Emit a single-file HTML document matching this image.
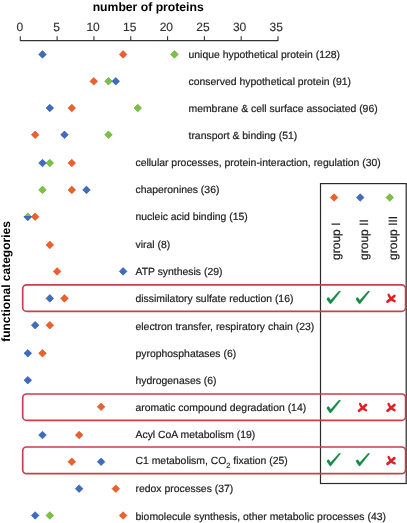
<!DOCTYPE html>
<html><head><meta charset="utf-8"><style>
html,body{margin:0;padding:0;background:#fff;}
svg{display:block;font-family:"Liberation Sans",Arial,sans-serif;text-rendering:geometricPrecision;}
</style></head><body>
<svg width="407" height="523" viewBox="0 0 407 523">
<text x="148.2" y="10.6" font-weight="bold" font-size="12.2" text-anchor="middle">number of proteins</text>
<text x="19.85" y="31" font-size="12" text-anchor="middle" fill="#333" stroke="#333" stroke-width="0.15">0</text>
<text x="56.47" y="31" font-size="12" text-anchor="middle" fill="#333" stroke="#333" stroke-width="0.15">5</text>
<text x="93.09" y="31" font-size="12" text-anchor="middle" fill="#333" stroke="#333" stroke-width="0.15">10</text>
<text x="129.71" y="31" font-size="12" text-anchor="middle" fill="#333" stroke="#333" stroke-width="0.15">15</text>
<text x="166.33" y="31" font-size="12" text-anchor="middle" fill="#333" stroke="#333" stroke-width="0.15">20</text>
<text x="202.95" y="31" font-size="12" text-anchor="middle" fill="#333" stroke="#333" stroke-width="0.15">25</text>
<text x="239.57" y="31" font-size="12" text-anchor="middle" fill="#333" stroke="#333" stroke-width="0.15">30</text>
<text x="276.19" y="31" font-size="12" text-anchor="middle" fill="#333" stroke="#333" stroke-width="0.15">35</text>
<path d="M20.30 36.3V41.1M57.12 36.3V41.1M93.93 36.3V41.1M130.75 36.3V41.1M167.56 36.3V41.1M204.38 36.3V41.1M241.19 36.3V41.1M278.01 36.3V41.1M20.30 40.6H278.01" stroke="#333" stroke-width="1.1" fill="none"/>
<text transform="translate(10.3,281.5) rotate(-90)" font-weight="bold" font-size="12" text-anchor="middle">functional categories</text>
<rect x="320.5" y="183.6" width="85.7" height="299.9" fill="none" stroke="#2a2a2a" stroke-width="1.2"/>
<path d="M334.10 193.70L337.90 197.50L334.10 201.30L330.30 197.50Z" fill="#ee602a" stroke="#c94e1f" stroke-width="0.6" stroke-linejoin="miter"/>
<path d="M360.20 193.70L364.00 197.50L360.20 201.30L356.40 197.50Z" fill="#3d6cc0" stroke="#2c5199" stroke-width="0.6" stroke-linejoin="miter"/>
<path d="M389.80 193.70L393.60 197.50L389.80 201.30L386.00 197.50Z" fill="#7cc242" stroke="#5e9e32" stroke-width="0.6" stroke-linejoin="miter"/>
<text transform="translate(340.2,259.9) rotate(-90)" font-size="12" fill="#222" stroke="#222" stroke-width="0.2">group I</text>
<text transform="translate(367.6,259.9) rotate(-90)" font-size="12" fill="#222" stroke="#222" stroke-width="0.2">group II</text>
<text transform="translate(396.6,259.9) rotate(-90)" font-size="12" fill="#222" stroke="#222" stroke-width="0.2">group III</text>
<rect x="22.7" y="284.9" width="382.9" height="26.50" rx="4" ry="4" fill="none" stroke="#c6404b" stroke-width="1.7"/>
<rect x="22.7" y="394.0" width="382.9" height="26.40" rx="4" ry="4" fill="none" stroke="#c6404b" stroke-width="1.7"/>
<rect x="22.7" y="447.0" width="382.9" height="26.70" rx="4" ry="4" fill="none" stroke="#c6404b" stroke-width="1.7"/>
<polygon points="327.10,298.05 328.90,297.55 330.70,300.35 339.10,290.95 340.70,291.35 331.00,303.65 330.00,303.85 327.00,299.65" fill="#138b45" stroke="#138b45" stroke-width="0.3" stroke-linejoin="round"/>
<polygon points="356.20,298.05 358.00,297.55 359.80,300.35 368.20,290.95 369.80,291.35 360.10,303.65 359.10,303.85 356.10,299.65" fill="#138b45" stroke="#138b45" stroke-width="0.3" stroke-linejoin="round"/>
<path d="M388.60 294.85Q390.00 297.85 391.00 298.85T394.60 301.15" stroke="#dc2129" stroke-width="2.4" stroke-linecap="round" stroke-linejoin="round" fill="none"/><path d="M394.40 295.95L391.00 298.85L387.50 301.65" stroke="#dc2129" stroke-width="2.7" stroke-linecap="round" stroke-linejoin="round" fill="none"/>
<polygon points="327.10,407.10 328.90,406.60 330.70,409.40 339.10,400.00 340.70,400.40 331.00,412.70 330.00,412.90 327.00,408.70" fill="#138b45" stroke="#138b45" stroke-width="0.3" stroke-linejoin="round"/>
<path d="M360.10 403.90Q361.50 406.90 362.50 407.90T366.10 410.20" stroke="#dc2129" stroke-width="2.4" stroke-linecap="round" stroke-linejoin="round" fill="none"/><path d="M365.90 405.00L362.50 407.90L359.00 410.70" stroke="#dc2129" stroke-width="2.7" stroke-linecap="round" stroke-linejoin="round" fill="none"/>
<path d="M388.60 403.90Q390.00 406.90 391.00 407.90T394.60 410.20" stroke="#dc2129" stroke-width="2.4" stroke-linecap="round" stroke-linejoin="round" fill="none"/><path d="M394.40 405.00L391.00 407.90L387.50 410.70" stroke="#dc2129" stroke-width="2.7" stroke-linecap="round" stroke-linejoin="round" fill="none"/>
<polygon points="327.10,460.25 328.90,459.75 330.70,462.55 339.10,453.15 340.70,453.55 331.00,465.85 330.00,466.05 327.00,461.85" fill="#138b45" stroke="#138b45" stroke-width="0.3" stroke-linejoin="round"/>
<polygon points="356.20,460.25 358.00,459.75 359.80,462.55 368.20,453.15 369.80,453.55 360.10,465.85 359.10,466.05 356.10,461.85" fill="#138b45" stroke="#138b45" stroke-width="0.3" stroke-linejoin="round"/>
<path d="M388.60 457.05Q390.00 460.05 391.00 461.05T394.60 463.35" stroke="#dc2129" stroke-width="2.4" stroke-linecap="round" stroke-linejoin="round" fill="none"/><path d="M394.40 458.15L391.00 461.05L387.50 463.85" stroke="#dc2129" stroke-width="2.7" stroke-linecap="round" stroke-linejoin="round" fill="none"/>
<text x="188.5" y="57.90" font-size="10.42" fill="#222" stroke="#222" stroke-width="0.2">unique hypothetical protein (128)</text>
<path d="M42.49 50.60L46.29 54.40L42.49 58.20L38.69 54.40Z" fill="#3d6cc0" stroke="#2c5199" stroke-width="0.6" stroke-linejoin="miter"/>
<path d="M123.12 50.60L126.92 54.40L123.12 58.20L119.32 54.40Z" fill="#ee602a" stroke="#c94e1f" stroke-width="0.6" stroke-linejoin="miter"/>
<path d="M174.43 50.60L178.23 54.40L174.43 58.20L170.63 54.40Z" fill="#7cc242" stroke="#5e9e32" stroke-width="0.6" stroke-linejoin="miter"/>
<text x="188.5" y="85.43" font-size="10.42" fill="#222" stroke="#222" stroke-width="0.2">conserved hypothetical protein (91)</text>
<path d="M93.80 77.50L97.60 81.30L93.80 85.10L90.00 81.30Z" fill="#ee602a" stroke="#c94e1f" stroke-width="0.6" stroke-linejoin="miter"/>
<path d="M108.46 77.50L112.26 81.30L108.46 85.10L104.66 81.30Z" fill="#7cc242" stroke="#5e9e32" stroke-width="0.6" stroke-linejoin="miter"/>
<path d="M115.79 77.50L119.59 81.30L115.79 85.10L111.99 81.30Z" fill="#3d6cc0" stroke="#2c5199" stroke-width="0.6" stroke-linejoin="miter"/>
<text x="188.5" y="112.46" font-size="10.42" fill="#222" stroke="#222" stroke-width="0.2">membrane &amp; cell surface associated (96)</text>
<path d="M49.82 104.27L53.62 108.07L49.82 111.87L46.02 108.07Z" fill="#3d6cc0" stroke="#2c5199" stroke-width="0.6" stroke-linejoin="miter"/>
<path d="M71.81 104.27L75.61 108.07L71.81 111.87L68.01 108.07Z" fill="#ee602a" stroke="#c94e1f" stroke-width="0.6" stroke-linejoin="miter"/>
<path d="M137.78 104.27L141.58 108.07L137.78 111.87L133.98 108.07Z" fill="#7cc242" stroke="#5e9e32" stroke-width="0.6" stroke-linejoin="miter"/>
<text x="188.5" y="139.49" font-size="10.42" fill="#222" stroke="#222" stroke-width="0.2">transport &amp; binding (51)</text>
<path d="M35.16 131.00L38.96 134.80L35.16 138.60L31.36 134.80Z" fill="#ee602a" stroke="#c94e1f" stroke-width="0.6" stroke-linejoin="miter"/>
<path d="M64.48 131.00L68.28 134.80L64.48 138.60L60.68 134.80Z" fill="#3d6cc0" stroke="#2c5199" stroke-width="0.6" stroke-linejoin="miter"/>
<path d="M108.46 131.00L112.26 134.80L108.46 138.60L104.66 134.80Z" fill="#7cc242" stroke="#5e9e32" stroke-width="0.6" stroke-linejoin="miter"/>
<text x="135.5" y="166.12" font-size="10.42" fill="#222" stroke="#222" stroke-width="0.2">cellular processes, protein-interaction, regulation (30)</text>
<path d="M42.49 159.26L46.29 163.06L42.49 166.86L38.69 163.06Z" fill="#3d6cc0" stroke="#2c5199" stroke-width="0.6" stroke-linejoin="miter"/>
<path d="M49.82 159.26L53.62 163.06L49.82 166.86L46.02 163.06Z" fill="#7cc242" stroke="#5e9e32" stroke-width="0.6" stroke-linejoin="miter"/>
<path d="M71.81 159.26L75.61 163.06L71.81 166.86L68.01 163.06Z" fill="#ee602a" stroke="#c94e1f" stroke-width="0.6" stroke-linejoin="miter"/>
<text x="135.5" y="193.15" font-size="10.42" fill="#222" stroke="#222" stroke-width="0.2">chaperonines (36)</text>
<path d="M42.49 186.10L46.29 189.90L42.49 193.70L38.69 189.90Z" fill="#7cc242" stroke="#5e9e32" stroke-width="0.6" stroke-linejoin="miter"/>
<path d="M71.81 186.10L75.61 189.90L71.81 193.70L68.01 189.90Z" fill="#ee602a" stroke="#c94e1f" stroke-width="0.6" stroke-linejoin="miter"/>
<path d="M86.47 186.10L90.27 189.90L86.47 193.70L82.67 189.90Z" fill="#3d6cc0" stroke="#2c5199" stroke-width="0.6" stroke-linejoin="miter"/>
<text x="135.5" y="220.28" font-size="10.42" fill="#222" stroke="#222" stroke-width="0.2">nucleic acid binding (15)</text>
<path d="M27.83 212.90L31.63 216.70L27.83 220.50L24.03 216.70Z" fill="#7cc242" stroke="#5e9e32" stroke-width="0.6" stroke-linejoin="miter"/>
<clipPath id="cgb"><rect x="21.83" y="216.00" width="12" height="8"/></clipPath>
<g clip-path="url(#cgb)"><path d="M27.83 212.90L31.63 216.70L27.83 220.50L24.03 216.70Z" fill="#3d6cc0" stroke="#2c5199" stroke-width="0.6" stroke-linejoin="miter"/></g>
<path d="M35.16 212.90L38.96 216.70L35.16 220.50L31.36 216.70Z" fill="#ee602a" stroke="#c94e1f" stroke-width="0.6" stroke-linejoin="miter"/>
<text x="135.5" y="247.81" font-size="10.42" fill="#222" stroke="#222" stroke-width="0.2">viral (8)</text>
<path d="M49.82 241.10L53.62 244.90L49.82 248.70L46.02 244.90Z" fill="#ee602a" stroke="#c94e1f" stroke-width="0.6" stroke-linejoin="miter"/>
<text x="135.5" y="274.94" font-size="10.42" fill="#222" stroke="#222" stroke-width="0.2">ATP synthesis (29)</text>
<path d="M57.15 267.60L60.95 271.40L57.15 275.20L53.35 271.40Z" fill="#ee602a" stroke="#c94e1f" stroke-width="0.6" stroke-linejoin="miter"/>
<path d="M123.12 267.60L126.92 271.40L123.12 275.20L119.32 271.40Z" fill="#3d6cc0" stroke="#2c5199" stroke-width="0.6" stroke-linejoin="miter"/>
<text x="135.5" y="302.07" font-size="10.42" fill="#222" stroke="#222" stroke-width="0.2">dissimilatory sulfate reduction (16)</text>
<path d="M49.82 294.60L53.62 298.40L49.82 302.20L46.02 298.40Z" fill="#3d6cc0" stroke="#2c5199" stroke-width="0.6" stroke-linejoin="miter"/>
<path d="M64.48 294.60L68.28 298.40L64.48 302.20L60.68 298.40Z" fill="#ee602a" stroke="#c94e1f" stroke-width="0.6" stroke-linejoin="miter"/>
<text x="135.5" y="329.90" font-size="10.42" fill="#222" stroke="#222" stroke-width="0.2">electron transfer, respiratory chain (23)</text>
<path d="M35.16 321.40L38.96 325.20L35.16 329.00L31.36 325.20Z" fill="#3d6cc0" stroke="#2c5199" stroke-width="0.6" stroke-linejoin="miter"/>
<path d="M49.82 321.40L53.62 325.20L49.82 329.00L46.02 325.20Z" fill="#ee602a" stroke="#c94e1f" stroke-width="0.6" stroke-linejoin="miter"/>
<text x="135.5" y="356.93" font-size="10.42" fill="#222" stroke="#222" stroke-width="0.2">pyrophosphatases (6)</text>
<path d="M27.83 349.50L31.63 353.30L27.83 357.10L24.03 353.30Z" fill="#3d6cc0" stroke="#2c5199" stroke-width="0.6" stroke-linejoin="miter"/>
<path d="M42.49 349.50L46.29 353.30L42.49 357.10L38.69 353.30Z" fill="#ee602a" stroke="#c94e1f" stroke-width="0.6" stroke-linejoin="miter"/>
<text x="135.5" y="384.36" font-size="10.42" fill="#222" stroke="#222" stroke-width="0.2">hydrogenases (6)</text>
<path d="M27.83 376.40L31.63 380.20L27.83 384.00L24.03 380.20Z" fill="#3d6cc0" stroke="#2c5199" stroke-width="0.6" stroke-linejoin="miter"/>
<text x="135.5" y="410.59" font-size="10.42" fill="#222" stroke="#222" stroke-width="0.2">aromatic compound degradation (14)</text>
<path d="M101.13 403.00L104.93 406.80L101.13 410.60L97.33 406.80Z" fill="#ee602a" stroke="#c94e1f" stroke-width="0.6" stroke-linejoin="miter"/>
<text x="135.5" y="437.52" font-size="10.42" fill="#222" stroke="#222" stroke-width="0.2">Acyl CoA metabolism (19)</text>
<path d="M42.49 431.26L46.29 435.06L42.49 438.86L38.69 435.06Z" fill="#3d6cc0" stroke="#2c5199" stroke-width="0.6" stroke-linejoin="miter"/>
<path d="M79.14 431.26L82.94 435.06L79.14 438.86L75.34 435.06Z" fill="#ee602a" stroke="#c94e1f" stroke-width="0.6" stroke-linejoin="miter"/>
<text x="135.5" y="464.25" font-size="10.42" fill="#222" stroke="#222" stroke-width="0.2">C1 metabolism, CO<tspan font-size="7.5" dy="3.6">2</tspan><tspan dy="-3.6"> fixation (25)</tspan></text>
<path d="M71.81 458.00L75.61 461.80L71.81 465.60L68.01 461.80Z" fill="#ee602a" stroke="#c94e1f" stroke-width="0.6" stroke-linejoin="miter"/>
<path d="M101.13 458.00L104.93 461.80L101.13 465.60L97.33 461.80Z" fill="#3d6cc0" stroke="#2c5199" stroke-width="0.6" stroke-linejoin="miter"/>
<text x="135.5" y="491.98" font-size="10.42" fill="#222" stroke="#222" stroke-width="0.2">redox processes (37)</text>
<path d="M79.14 484.90L82.94 488.70L79.14 492.50L75.34 488.70Z" fill="#3d6cc0" stroke="#2c5199" stroke-width="0.6" stroke-linejoin="miter"/>
<path d="M115.79 484.90L119.59 488.70L115.79 492.50L111.99 488.70Z" fill="#ee602a" stroke="#c94e1f" stroke-width="0.6" stroke-linejoin="miter"/>
<text x="135.5" y="519.71" font-size="10.42" fill="#222" stroke="#222" stroke-width="0.2">biomolecule synthesis, other metabolic processes (43)</text>
<path d="M35.16 511.70L38.96 515.50L35.16 519.30L31.36 515.50Z" fill="#3d6cc0" stroke="#2c5199" stroke-width="0.6" stroke-linejoin="miter"/>
<path d="M49.82 511.70L53.62 515.50L49.82 519.30L46.02 515.50Z" fill="#7cc242" stroke="#5e9e32" stroke-width="0.6" stroke-linejoin="miter"/>
<path d="M123.12 511.70L126.92 515.50L123.12 519.30L119.32 515.50Z" fill="#ee602a" stroke="#c94e1f" stroke-width="0.6" stroke-linejoin="miter"/>
</svg>
</body></html>
